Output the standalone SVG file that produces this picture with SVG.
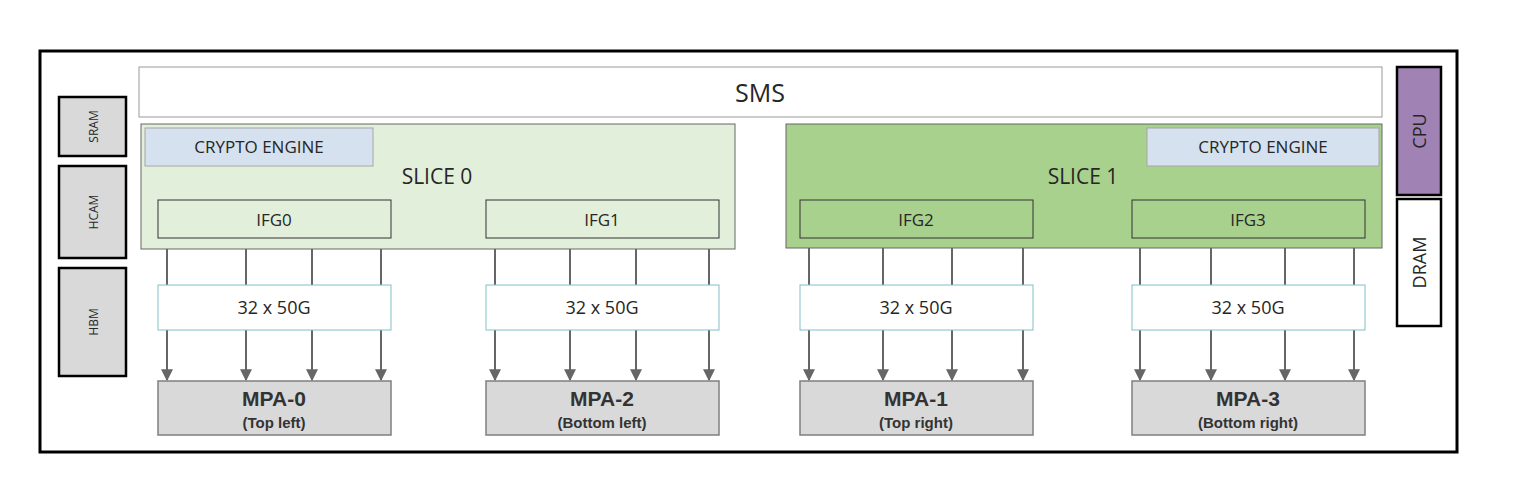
<svg xmlns="http://www.w3.org/2000/svg" width="1514" height="486" viewBox="0 0 1514 486">
<style>
text{font-family:"Open Sans","Liberation Sans",sans-serif;fill:#262626;text-anchor:middle}
.side{fill:#d9d9d9;stroke:#000;stroke-width:2.5}
.ifg{stroke:#333;stroke-width:1}
.bw{fill:#fff;stroke:#7fbfc8;stroke-width:1}
.mpa{fill:#d9d9d9;stroke:#7f7f7f;stroke-width:1.5}
.ce{fill:#d5e1ee;stroke:#a6a6a6;stroke-width:1}
.conn line{stroke:#666;stroke-width:2;marker-end:url(#ah)}
.conn line.p{marker-end:none}
.b{font-family:"Liberation Sans",Arial,sans-serif;font-weight:bold;fill:#333}
</style>
<defs><marker id="ah" viewBox="0 0 10 10" refX="9" refY="5" markerWidth="6" markerHeight="6" orient="auto" markerUnits="strokeWidth"><path d="M0,0L10,5L0,10z" fill="#666"/></marker></defs>
<rect x="0" y="0" width="1514" height="486" fill="#fff"/>
<rect id="chip" x="40" y="51" width="1417" height="401" fill="#fff" stroke="#000" stroke-width="3"/>
<g id="sram"><rect class="side" x="59" y="97" width="67" height="59"/><text transform="translate(98,126.5) rotate(-90)" font-size="12">SRAM</text></g>
<g id="hcam"><rect class="side" x="59" y="166" width="67" height="92"/><text transform="translate(98,212) rotate(-90)" font-size="12">HCAM</text></g>
<g id="hbm"><rect class="side" x="59" y="268" width="67" height="108"/><text transform="translate(98,322) rotate(-90)" font-size="12">HBM</text></g>
<g id="sms"><rect x="139" y="67" width="1243" height="50" fill="#fff" stroke="#999"/><text x="760" y="102" font-size="25">SMS</text></g>
<g id="cpu"><rect x="1397" y="67" width="44" height="128" fill="#a082b4" stroke="#000" stroke-width="2.5"/><text transform="translate(1426,131) rotate(-90)" font-size="18">CPU</text></g>
<g id="dram"><rect x="1397" y="199" width="44" height="127" fill="#fff" stroke="#000" stroke-width="2.5"/><text transform="translate(1426,262.5) rotate(-90)" font-size="18">DRAM</text></g>
<g id="slice0"><rect x="141" y="124" width="594" height="125" fill="#e2efda" stroke="#666"/><text x="437" y="184" font-size="21">SLICE 0</text></g>
<g id="crypto0"><rect class="ce" x="145" y="128" width="228" height="38"/><text x="259" y="153" font-size="17">CRYPTO ENGINE</text></g>
<g id="slice1"><rect x="786" y="124" width="596" height="124" fill="#a9d18e" stroke="#666"/><text x="1083" y="184" font-size="21">SLICE 1</text></g>
<g id="crypto1"><rect class="ce" x="1147" y="128" width="232" height="38"/><text x="1263" y="153" font-size="17">CRYPTO ENGINE</text></g>
<g id="ifg0"><rect class="ifg" x="158" y="200" width="233" height="38" fill="#e2efda"/><text x="274" y="226" font-size="17" fill="#404040">IFG0</text></g>
<g id="ifg1"><rect class="ifg" x="486" y="200" width="233" height="38" fill="#e2efda"/><text x="602" y="226" font-size="17" fill="#404040">IFG1</text></g>
<g id="ifg2"><rect class="ifg" x="800" y="200" width="233" height="38" fill="#a9d18e"/><text x="916" y="226" font-size="17" fill="#404040">IFG2</text></g>
<g id="ifg3"><rect class="ifg" x="1132" y="200" width="233" height="38" fill="#a9d18e"/><text x="1248" y="226" font-size="17" fill="#404040">IFG3</text></g>
<g class="conn" id="connectors">
<line class="p" x1="167" y1="249" x2="167" y2="285"/><line class="p" x1="246" y1="249" x2="246" y2="285"/><line class="p" x1="312" y1="249" x2="312" y2="285"/><line class="p" x1="381" y1="249" x2="381" y2="285"/>
<line x1="167" y1="330" x2="167" y2="380"/><line x1="246" y1="330" x2="246" y2="380"/><line x1="312" y1="330" x2="312" y2="380"/><line x1="381" y1="330" x2="381" y2="380"/>
<line class="p" x1="495" y1="249" x2="495" y2="285"/><line class="p" x1="570" y1="249" x2="570" y2="285"/><line class="p" x1="636" y1="249" x2="636" y2="285"/><line class="p" x1="709" y1="249" x2="709" y2="285"/>
<line x1="495" y1="330" x2="495" y2="380"/><line x1="570" y1="330" x2="570" y2="380"/><line x1="636" y1="330" x2="636" y2="380"/><line x1="709" y1="330" x2="709" y2="380"/>
<line class="p" x1="809" y1="248" x2="809" y2="285"/><line class="p" x1="883" y1="248" x2="883" y2="285"/><line class="p" x1="952" y1="248" x2="952" y2="285"/><line class="p" x1="1023" y1="248" x2="1023" y2="285"/>
<line x1="809" y1="330" x2="809" y2="380"/><line x1="883" y1="330" x2="883" y2="380"/><line x1="952" y1="330" x2="952" y2="380"/><line x1="1023" y1="330" x2="1023" y2="380"/>
<line class="p" x1="1140" y1="248" x2="1140" y2="285"/><line class="p" x1="1211" y1="248" x2="1211" y2="285"/><line class="p" x1="1285" y1="248" x2="1285" y2="285"/><line class="p" x1="1354" y1="248" x2="1354" y2="285"/>
<line x1="1140" y1="330" x2="1140" y2="380"/><line x1="1211" y1="330" x2="1211" y2="380"/><line x1="1285" y1="330" x2="1285" y2="380"/><line x1="1354" y1="330" x2="1354" y2="380"/>
</g>
<g id="bw0"><rect class="bw" x="158" y="285" width="233" height="45"/><text x="274" y="314" font-size="18">32 x 50G</text></g>
<g id="bw1"><rect class="bw" x="486" y="285" width="233" height="45"/><text x="602" y="314" font-size="18">32 x 50G</text></g>
<g id="bw2"><rect class="bw" x="800" y="285" width="233" height="45"/><text x="916" y="314" font-size="18">32 x 50G</text></g>
<g id="bw3"><rect class="bw" x="1132" y="285" width="233" height="45"/><text x="1248" y="314" font-size="18">32 x 50G</text></g>
<g id="mpa0"><rect class="mpa" x="158" y="381" width="233" height="54"/><text class="b" x="274" y="406" font-size="21">MPA-0</text><text class="b" x="274" y="428" font-size="15">(Top left)</text></g>
<g id="mpa2"><rect class="mpa" x="486" y="381" width="233" height="54"/><text class="b" x="602" y="406" font-size="21">MPA-2</text><text class="b" x="602" y="428" font-size="15">(Bottom left)</text></g>
<g id="mpa1"><rect class="mpa" x="800" y="381" width="233" height="54"/><text class="b" x="916" y="406" font-size="21">MPA-1</text><text class="b" x="916" y="428" font-size="15">(Top right)</text></g>
<g id="mpa3"><rect class="mpa" x="1132" y="381" width="233" height="54"/><text class="b" x="1248" y="406" font-size="21">MPA-3</text><text class="b" x="1248" y="428" font-size="15">(Bottom right)</text></g>
</svg>
